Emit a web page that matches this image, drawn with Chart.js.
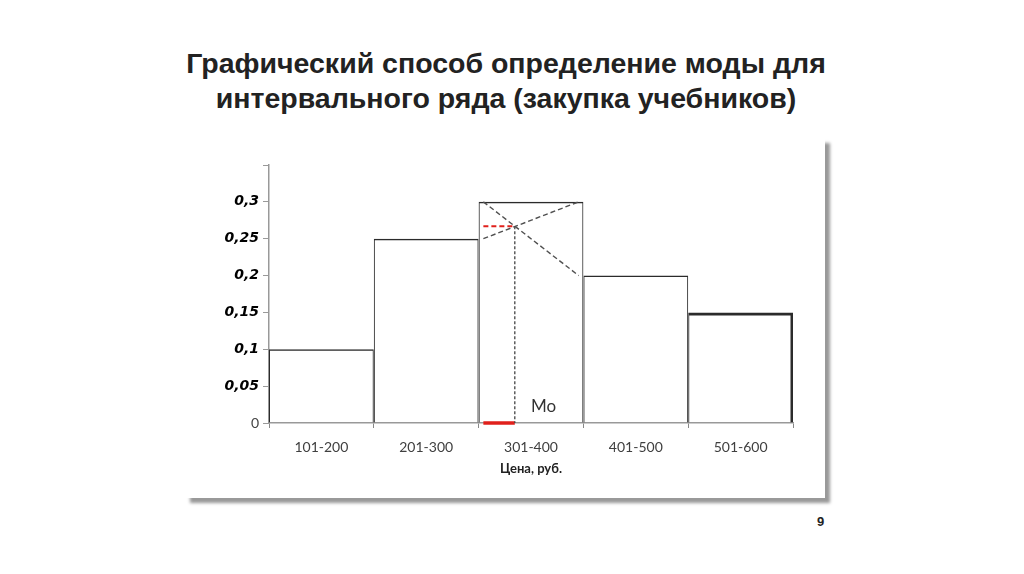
<!DOCTYPE html>
<html>
<head>
<meta charset="utf-8">
<script src="https://cdn.jsdelivr.net/npm/chart.js@4/dist/chart.umd.min.js"></script>
<style>
  html, body { margin: 0; padding: 0; background: #fff; }
  body { width: 1024px; height: 574px; position: relative; overflow: hidden; }
  .title {
    position: absolute; left: -6px; top: 46px; width: 1024px;
    text-align: center; font: bold 28.5px "Liberation Sans", Arial, sans-serif;
    line-height: 35px; color: #222;
  }
  .panel {
    position: absolute; left: 185px; top: 138px; width: 640px; height: 360px;
    background: #fff; box-shadow: 5px 5px 3px #999;
  }
  .panel canvas { position: absolute; left: 0; top: 0; }
  .page { position: absolute; left: 817px; top: 514px; font: bold 13px "Liberation Sans", Arial, sans-serif; color: #222; }
</style>
</head>
<body>
<div class="title">Графический способ определение моды для<br>интервального ряда (закупка учебников)</div>
<div class="panel"><canvas id="hist" width="640" height="360"></canvas></div>
<div class="page">9</div>
<script>
const categories = ["101-200", "201-300", "301-400", "401-500", "501-600"];
const freq = [0.1, 0.25, 0.3, 0.2, 0.15];
const yMax = 0.35;
const yStep = 0.05;
// mode (intersection of the dashed diagonals)
const modeX = 2.33;
const modeY = 0.267;
const modal = 2;

const noPts = { pointRadius: 0, pointHoverRadius: 0, fill: false, clip: false, xAxisID: 'xl', type: 'line', tension: 0 };
const edge = { top: 1.5, left: 1, right: 1, bottom: 0 };

const moLabel = {
  id: 'moLabel',
  afterDatasetsDraw(chart) {
    const c = chart.ctx;
    const x = chart.scales.xl.getPixelForValue(modeX + 0.17);
    const y = chart.scales.y.getPixelForValue(0.022);
    c.save();
    c.font = '17px Lato, "Open Sans", sans-serif';
    c.fillStyle = '#333';
    c.textBaseline = 'middle';
    c.fillText('Mo', x, y);
    c.restore();
  }
};

new Chart(document.getElementById('hist'), {
  type: 'bar',
  data: {
    labels: categories,
    datasets: [
      {
        data: freq,
        backgroundColor: 'rgba(255,255,255,0)',
        borderColor: '#2b2b2b',
        borderWidth: [edge, edge, edge, edge, { top: 3, right: 2.5, left: 1, bottom: 0 }],
        inflateAmount: 0,
        barPercentage: 1,
        categoryPercentage: 1,
        grouped: false,
        order: 2
      },
      Object.assign({}, noPts, {
        data: [{ x: modal, y: freq[modal] }, { x: modal + 1, y: freq[modal + 1] }],
        borderColor: '#505050', borderWidth: 1.4, borderDash: [5, 3]
      }),
      Object.assign({}, noPts, {
        data: [{ x: modal, y: freq[modal - 1] }, { x: modal + 1, y: freq[modal] }],
        borderColor: '#505050', borderWidth: 1.4, borderDash: [5, 3]
      }),
      Object.assign({}, noPts, {
        data: [{ x: modal, y: modeY }, { x: modeX, y: modeY }],
        borderColor: '#e0201b', borderWidth: 2, borderDash: [5, 3]
      }),
      Object.assign({}, noPts, {
        data: [{ x: modeX, y: modeY }, { x: modeX, y: 0 }],
        borderColor: '#444', borderWidth: 1.3, borderDash: [3, 2]
      }),
      Object.assign({}, noPts, {
        data: [{ x: modal, y: 0 }, { x: modeX, y: 0 }],
        borderColor: '#e0201b', borderWidth: 3.5
      })
    ]
  },
  options: {
    responsive: false,
    animation: false,
    events: [],
    layout: { padding: { top: 27, right: 32, bottom: 17, left: 0 } },
    plugins: { legend: { display: false }, tooltip: { enabled: false } },
    scales: {
      x: {
        type: 'category',
        offset: true,
        grid: { offset: true, drawOnChartArea: false, color: '#888', tickLength: 5 },
        border: { color: '#999', width: 1.5 },
        ticks: { color: '#404040', font: { family: 'Lato, "Open Sans", sans-serif', size: 14 }, padding: 11 },
        title: { display: true, text: 'Цена, руб.', color: '#222', font: { family: 'Lato, "Open Sans", sans-serif', size: 13, weight: 'bold' }, padding: { top: 2 } },
        afterFit(s) { s.height = 58; }
      },
      xl: { type: 'linear', min: 0, max: categories.length, display: false },
      y: {
        min: 0,
        max: yMax,
        grid: { drawOnChartArea: false, color: '#999', tickLength: 6 },
        border: { color: '#999', width: 1.5 },
        ticks: {
          stepSize: yStep,
          padding: 4,
          color: ctx => ctx.tick.value === 0 ? '#444' : '#000',
          font: ctx => ctx.tick && ctx.tick.value === 0
            ? { family: 'Lato, sans-serif', size: 14 }
            : { family: '"DejaVu Sans", sans-serif', size: 14, weight: 'bold', style: 'italic' },
          callback: v => Math.abs(v - yMax) < 1e-6 ? '' : String(+v.toFixed(2)).replace('.', ',')
        },
        afterFit(s) { s.width = 84; }
      }
    }
  },
  plugins: [moLabel]
});
</script>
</body>
</html>
